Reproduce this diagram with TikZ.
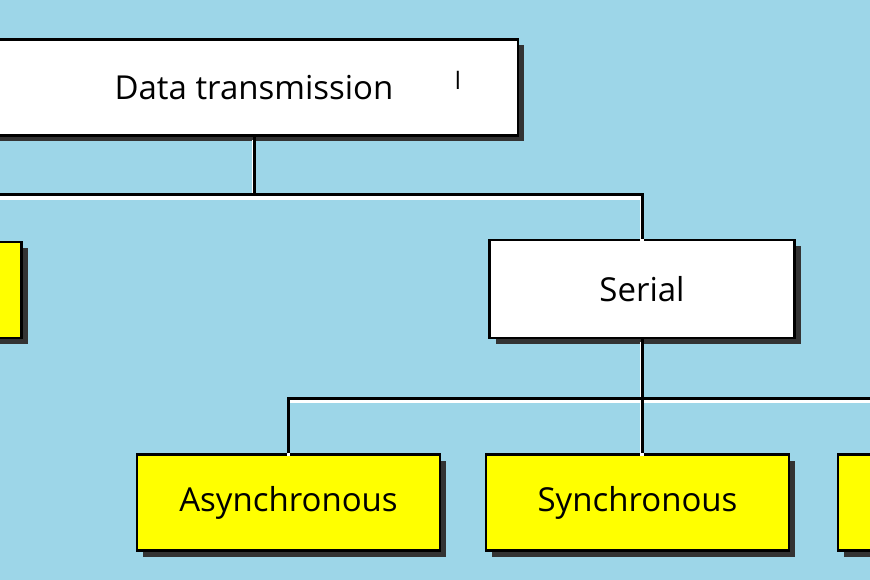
\documentclass[tikz,border=0pt]{standalone}
\usepackage{fontspec}
\setmainfont{Open Sans}
\definecolor{skyback}{HTML}{9DD6E8}
\definecolor{boxyellow}{HTML}{FFFF00}
\tikzset{
  tbox/.style={draw=black,line width=2.5pt,fill=white,minimum width=303pt,minimum height=96pt,
    font=\fontsize{33}{40}\selectfont,inner sep=0pt,
    preaction={fill=black!80,transform canvas={xshift=6pt,yshift=-6pt}}},
  ybox/.style={tbox,fill=boxyellow},
  link/.style={line width=3pt,draw=black,preaction={draw=white,line width=3.5pt,transform canvas={yshift=-3pt}}}
}
\begin{document}
\begin{tikzpicture}[x=1pt,y=-1pt]
  \useasboundingbox (0,0) rectangle (870,580);
  \clip (0,0) rectangle (870,580);
  \fill[skyback] (0,0) rectangle (870,580);
  % boxes
  \node[tbox,minimum width=528pt] (data) at (254,87.5) {Data transmission};
  \node[font=\fontsize{24}{28}\selectfont] (mark) at (458,80) {l};
  \node[ybox] (par) at (-130,290) {};
  \node[tbox,minimum width=305pt,minimum height=98pt] (serial) at (642,289) {Serial};
  \node[ybox] (async) at (288.5,502.5) {Asynchronous};
  \node[ybox] (sync) at (637.5,502.5) {Synchronous};
  \node[ybox] (iso) at (989.5,502.5) {};
  % connectors
  \coordinate (top) at (254,195);
  \coordinate (mid) at (642,398);
  \draw[link] (data.south) -- (top);
  \draw[link] (par.north |- top) -- (top) -| (serial.north);
  \draw[link] (serial.south) -- (mid);
  \draw[link] (async.north) |- (mid) -| (iso.north);
  \draw[link] (mid) -- (sync.north -| mid);
\end{tikzpicture}
\end{document}
